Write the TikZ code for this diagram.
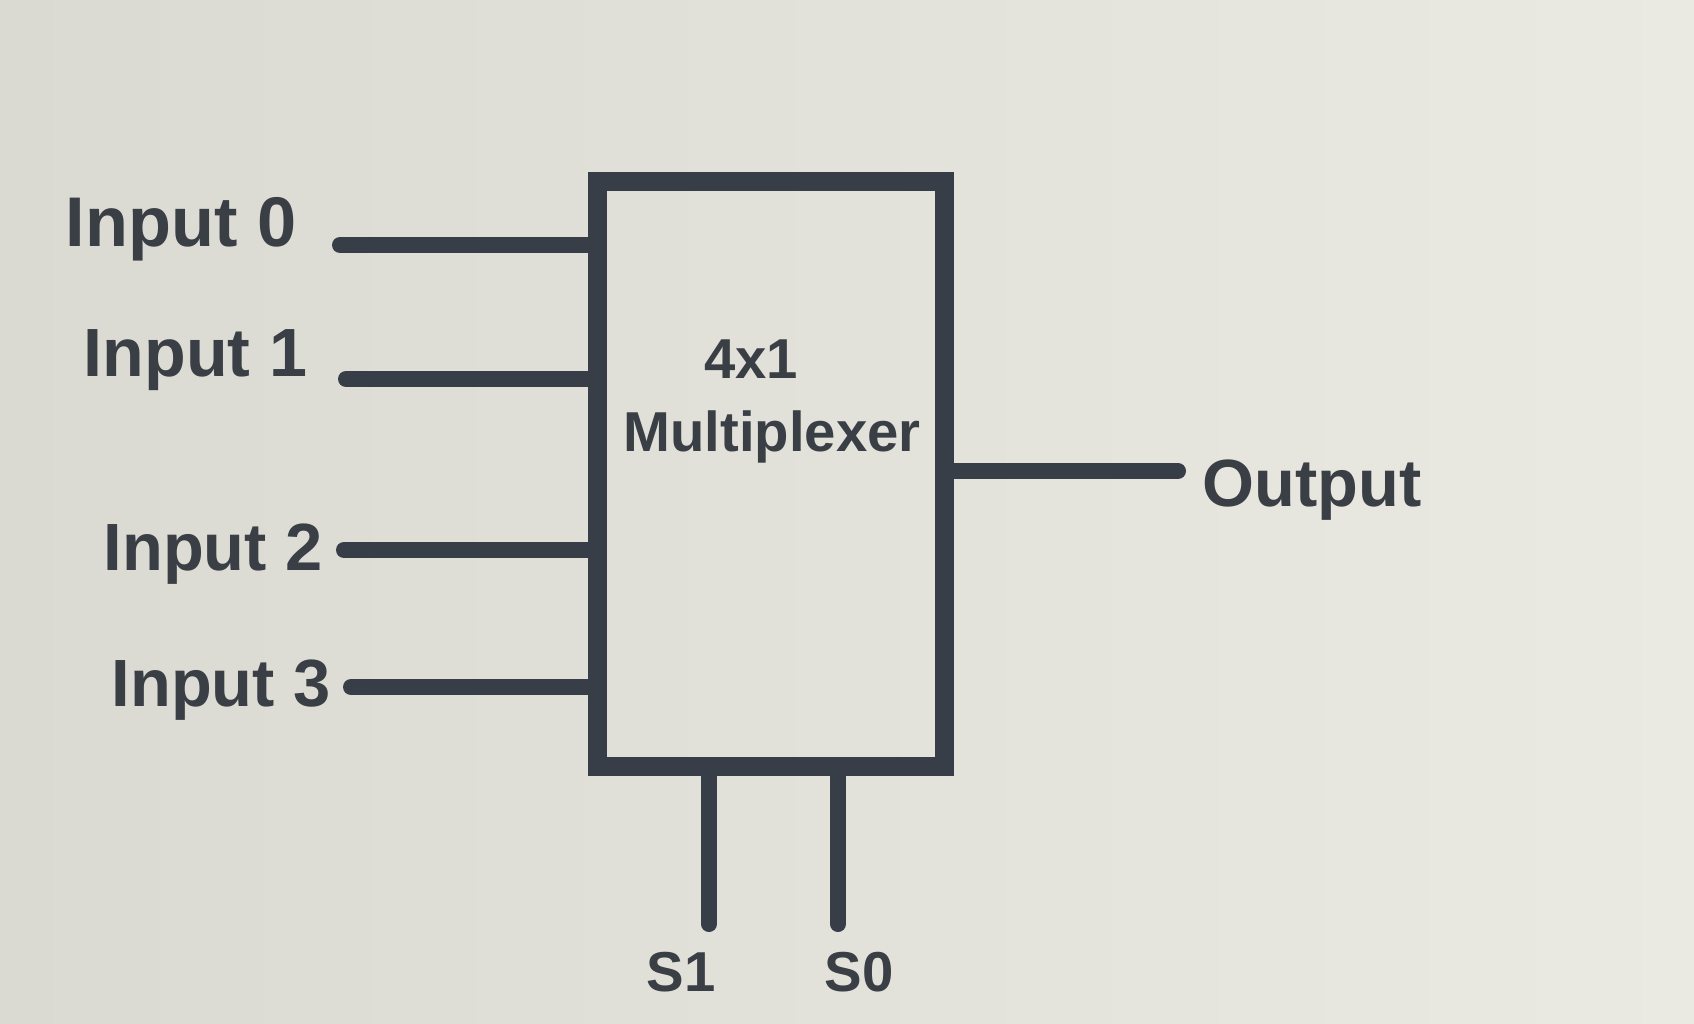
\documentclass[tikz,border=0pt]{standalone}
\usepackage{fontspec}
\setmainfont{Liberation Sans}
\usetikzlibrary{positioning}
\definecolor{wirecol}{HTML}{373E48}
\definecolor{textcol}{HTML}{3A3E45}
\definecolor{screenL}{HTML}{DADAD2}
\definecolor{screenR}{HTML}{EAEAE3}
\tikzset{
  wire/.style={draw=wirecol, line width=0.16cm, line cap=round},
  muxbox/.style={draw=wirecol, line width=0.19cm, rectangle, inner sep=0pt,
    minimum width=3.47cm, minimum height=5.85cm},
  pinlabel/.style={text=textcol, inner sep=0pt,
    font=\fontsize{19}{22}\selectfont\bfseries},
  muxlabel/.style={text=textcol, inner sep=0pt,
    font=\fontsize{16}{19}\selectfont\bfseries},
}
\begin{document}
\begin{tikzpicture}[x=0.01cm, y=-0.01cm]
  \shade[left color=screenL, right color=screenR] (0,0) rectangle (1694,1023);
  \useasboundingbox (0,0) rectangle (1694,1023);

  \node[muxbox] (mux) at (771,474) {};
  \node[muxlabel, anchor=base] (kind) at (751,378) {4x1};
  \node[muxlabel, anchor=base] (name) at (772,451) {Multiplexer};

  \coordinate (in0) at (340,245);
  \coordinate (in1) at (346,379);
  \coordinate (in2) at (344,550);
  \coordinate (in3) at (351,687);
  \node[pinlabel, anchor=base west, font=\fontsize{20}{23}\selectfont\bfseries] (lin0) at (65,246) {Input 0};
  \node[pinlabel, anchor=base west, font=\fontsize{19.4}{23}\selectfont\bfseries] (lin1) at (83,376) {Input 1};
  \node[pinlabel, anchor=base west] (lin2) at (103,570) {Input 2};
  \node[pinlabel, anchor=base west] (lin3) at (111,706) {Input 3};
  \draw[wire] (in0) -- (in0 -| mux.west);
  \draw[wire] (in1) -- (in1 -| mux.west);
  \draw[wire] (in2) -- (in2 -| mux.west);
  \draw[wire] (in3) -- (in3 -| mux.west);

  \coordinate (out) at (1178,471);
  \draw[wire] (mux.east |- out) -- (out);
  \node[pinlabel, anchor=base west] (lout) at (1202,506) {Output};

  \coordinate (s1) at (709,924);
  \coordinate (s0) at (838,924);
  \draw[wire] (s1 |- mux.south) -- (s1);
  \draw[wire] (s0 |- mux.south) -- (s0);
  \node[muxlabel, anchor=base] (ls1) at (681,991) {S1};
  \node[muxlabel, anchor=base] (ls0) at (859,991) {S0};
\end{tikzpicture}
\end{document}
